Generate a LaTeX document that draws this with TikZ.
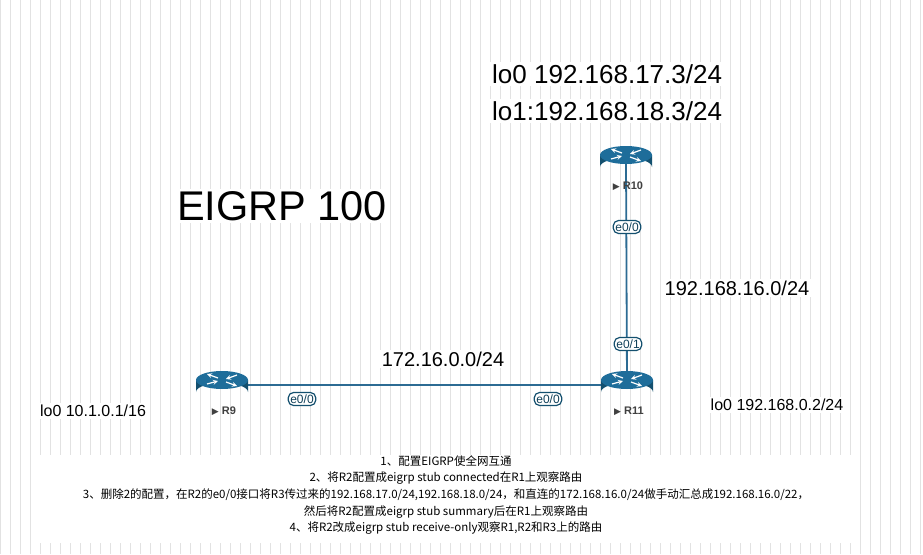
\documentclass[tikz,border=0pt]{standalone}
\usepackage{fontspec}
\setmainfont{Liberation Sans}
\newfontfamily\cjk{Noto Sans CJK SC}
\newfontfamily\djv{DejaVu Sans}
\definecolor{rblue}{HTML}{1E6D9A}
\definecolor{rdark}{HTML}{14506F}
\definecolor{lnk}{HTML}{2C6B93}
\definecolor{gridc}{HTML}{E2E2E2}
\tikzset{
  lbl/.style={fill=white,inner sep=2pt,text=black},
  iface/.style={draw=rdark,line width=1.2pt,rounded corners=5pt,fill=white,inner sep=2pt,font=\fontsize{12}{13}\selectfont,text=rdark!80!black},
  link/.style={draw=lnk,line width=1.8pt},
  rname/.style={font=\fontsize{11}{12}\selectfont\bfseries,text=black!75}
}
\newcommand{\router}[3]{%
  \begin{scope}[shift={(#1,#2)}]
    \fill[rdark] (-26,-5) -- (-26,7) arc[start angle=180,end angle=360,x radius=26,y radius=9] -- (26,-5) -- cycle;
    \fill[rblue] (0,-5) ellipse[x radius=26,y radius=9];
    \draw[white,line width=1.2pt,->,>=stealth] (-4,-7) -- (-15,-11);
    \draw[white,line width=1.2pt,->,>=stealth] (4,-3) -- (15,1);
    \draw[white,line width=1.2pt,->,>=stealth] (-15,-1) -- (-4,-4);
    \draw[white,line width=1.2pt,->,>=stealth] (15,-10) -- (4,-6);
  \end{scope}
  \node[rname,anchor=north] (#3lab) at (#1+2,#2+18) {{\djv\fontsize{9}{10}\selectfont ▶} #3};
}
\begin{document}
\begin{tikzpicture}[x=1pt,y=-1pt]
\useasboundingbox (0,0) rectangle (923,554);
\fill[white] (0,0) rectangle (923,554);
\draw[gridc,line width=0.6pt] (0,0) grid[step=10] (923,554);
% links
\coordinate (r9) at (222,385);
\coordinate (r10) at (626,160);
\coordinate (r11) at (627,385);
\draw[link] (r9) -- (r11);
\draw[link] (r10) -- (r11);
\router{222}{385}{R9}
\router{626}{160}{R10}
\router{627}{385}{R11}
\node[iface] (i1) at (302,399) {e0/0};
\node[iface] (i2) at (548,399) {e0/0};
\node[iface] (i3) at (627,227) {e0/0};
\node[iface] (i4) at (628,344) {e0/1};
% labels
\node[lbl,font=\fontsize{41.5}{46}\selectfont] (title) at (282,206) {EIGRP 100};
\node[lbl,font=\fontsize{26}{30}\selectfont,anchor=west] (lo10a) at (490,74) {lo0 192.168.17.3/24};
\node[lbl,font=\fontsize{26}{30}\selectfont,anchor=west] (lo10b) at (490,111) {lo1:192.168.18.3/24};
\node[lbl,font=\fontsize{20}{24}\selectfont] (n1) at (737,288) {192.168.16.0/24};
\node[lbl,font=\fontsize{20}{24}\selectfont] (n2) at (443,359) {172.16.0.0/24};
\node[lbl,font=\fontsize{16}{20}\selectfont] (lo9) at (93,411) {lo0 10.1.0.1/16};
\node[lbl,font=\fontsize{16}{20}\selectfont] (lo11) at (777,405) {lo0 192.168.0.2/24};
\fill[white] (40,455) rectangle (855,543);
\node[font=\cjk\fontsize{11.5}{16.7}\selectfont,align=center] (notes) at (446,495) {%
1、配置EIGRP使全网互通\\
2、将R2配置成eigrp stub connected在R1上观察路由\\
3、删除2的配置，在R2的e0/0接口将R3传过来的192.168.17.0/24,192.168.18.0/24，和直连的172.168.16.0/24做手动汇总成192.168.16.0/22，\\
然后将R2配置成eigrp stub summary后在R1上观察路由\\
4、将R2改成eigrp stub receive-only观察R1,R2和R3上的路由};
\end{tikzpicture}
\end{document}
